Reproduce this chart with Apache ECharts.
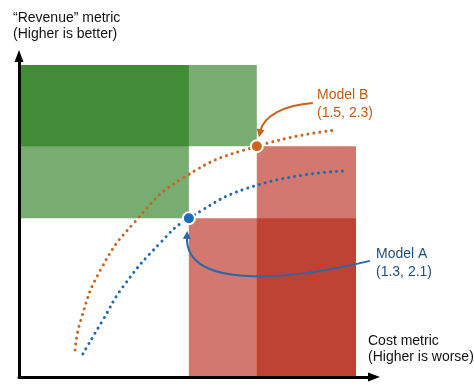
<!DOCTYPE html>
<html>
<head>
<meta charset="utf-8">
<script src="https://cdn.jsdelivr.net/npm/echarts@6/dist/echarts.min.js"></script>
<style>
html, body { margin: 0; padding: 0; background: #fff; }
#main { width: 474px; height: 389px; }
</style>
</head>
<body>
<div id="main"></div>
<script>
// models (cost, revenue)
var modelNames = ['Model A', 'Model B'];
var modelCost = [1.3, 1.5];
var modelRevenue = [2.1, 2.3];

// trade-off curves
var curveACost = [0.988, 1.047, 1.106, 1.215, 1.3, 1.501, 1.754];
var curveARevenue = [1.724, 1.818, 1.91, 2.031, 2.1, 2.192, 2.231];
var curveBCost = [0.965, 0.982, 1.04, 1.141, 1.283, 1.5, 1.736];
var curveBRevenue = [1.735, 1.818, 1.957, 2.09, 2.212, 2.3, 2.345];

// axis range
var costMin = 0.8, costMax = 1.845;
var revMin = 1.66, revMax = 2.55;
var regionTop = 2.525, regionRight = 1.792;

var blue = '#1f6aa8';
var orange = '#cc6420';
var font = '"Liberation Sans", Arial, sans-serif';

function pairs(xs, ys) {
    return xs.map(function (x, i) { return [x, ys[i]]; });
}

// better (green) / worse (red) regions per model
var rects = [];
modelCost.forEach(function (c, i) {
    rects.push([costMin, c, modelRevenue[i], regionTop, 0]);
    rects.push([c, regionRight, revMin, modelRevenue[i], 1]);
});

// annotation arrows: start, cp1, cp2, end (data coords)
var arrows = [
    [[1.833, 1.982], [1.598, 1.929], [1.289, 1.901], [1.295, 2.065]],
    [[1.665, 2.420], [1.583, 2.414], [1.521, 2.386], [1.506, 2.325]]
];
var arrowColors = ['#2a69a6', '#c8621c'];

var myChart = echarts.init(document.getElementById('main'));
var axisLine = {
    show: true,
    onZero: false,
    symbol: ['none', 'triangle'],
    symbolSize: [9, 12],
    lineStyle: { color: '#000', width: 3 }
};
var option = {
    animation: false,
    grid: { left: 19, top: 56, right: 100, bottom: 12 },
    xAxis: {
        type: 'value', min: costMin, max: costMax, z: 10,
        axisLine: axisLine, axisTick: { show: false },
        axisLabel: { show: false }, splitLine: { show: false }
    },
    yAxis: {
        type: 'value', min: revMin, max: revMax, z: 10,
        axisLine: axisLine, axisTick: { show: false },
        axisLabel: { show: false }, splitLine: { show: false }
    },
    graphic: [
        {
            type: 'text', left: 13, top: 10,
            style: { text: '\u201cRevenue\u201d metric\n(Higher is better)', font: '14px ' + font, fill: '#111', lineHeight: 16 }
        },
        {
            type: 'text', left: 368, top: 333,
            style: { text: 'Cost metric\n(Higher is worse)', font: '14px ' + font, fill: '#111', lineHeight: 16 }
        },
        {
            type: 'text', left: 376, top: 245,
            style: { text: modelNames[0] + '\n(' + modelCost[0].toFixed(1) + ', ' + modelRevenue[0].toFixed(1) + ')', font: '14px ' + font, fill: '#1f4e79', lineHeight: 18 }
        },
        {
            type: 'text', left: 317, top: 86,
            style: { text: modelNames[1] + '\n(' + modelCost[1].toFixed(1) + ', ' + modelRevenue[1].toFixed(1) + ')', font: '14px ' + font, fill: '#c55a11', lineHeight: 18 }
        }
    ],
    series: [
        {
            type: 'custom',
            z: 1,
            silent: true,
            encode: { x: [0, 1], y: [2, 3] },
            data: rects,
            renderItem: function (params, api) {
                var p0 = api.coord([api.value(0), api.value(3)]);
                var p1 = api.coord([api.value(1), api.value(2)]);
                var green = api.value(4) === 0;
                return {
                    type: 'rect',
                    shape: { x: p0[0], y: p0[1], width: p1[0] - p0[0], height: p1[1] - p0[1] },
                    style: { fill: green ? 'rgba(30,117,17,0.6)' : 'rgba(180,30,15,0.6)' }
                };
            }
        },
        {
            type: 'line',
            z: 3,
            smooth: 0.5,
            symbol: 'none',
            data: pairs(curveBCost, curveBRevenue),
            lineStyle: { color: orange, width: 3, type: [0.01, 6], cap: 'round' }
        },
        {
            type: 'line',
            z: 3,
            smooth: 0.5,
            symbol: 'none',
            data: pairs(curveACost, curveARevenue),
            lineStyle: { color: blue, width: 3, type: [0.01, 6], cap: 'round' }
        },
        {
            type: 'custom',
            z: 4,
            silent: true,
            data: [[1.3, 2.1], [1.5, 2.3]],
            renderItem: function (params, api) {
                var a = arrows[params.dataIndex].map(function (p) { return api.coord(p); });
                var col = arrowColors[params.dataIndex];
                var dx = a[3][0] - a[2][0], dy = a[3][1] - a[2][1];
                var len = Math.sqrt(dx * dx + dy * dy);
                dx /= len; dy /= len;
                var L = 8, W = 4;
                var bx = a[3][0] - dx * L, by = a[3][1] - dy * L;
                return {
                    type: 'group',
                    children: [
                        {
                            type: 'bezierCurve',
                            shape: {
                                x1: a[0][0], y1: a[0][1],
                                cpx1: a[1][0], cpy1: a[1][1],
                                cpx2: a[2][0], cpy2: a[2][1],
                                x2: bx + dx * 2, y2: by + dy * 2
                            },
                            style: { stroke: col, lineWidth: 2, fill: null }
                        },
                        {
                            type: 'polygon',
                            shape: { points: [a[3], [bx - dy * W, by + dx * W], [bx + dy * W, by - dx * W]] },
                            style: { fill: col }
                        }
                    ]
                };
            }
        },
        {
            type: 'scatter',
            z: 5,
            symbolSize: 12,
            data: pairs(modelCost, modelRevenue).map(function (p, i) {
                return { value: p, itemStyle: { color: i === 0 ? '#1a6cbf' : '#d0641a' } };
            }),
            itemStyle: { borderColor: '#fff', borderWidth: 2, opacity: 1 }
        }
    ]
};
myChart.setOption(option, true);
</script>
</body>
</html>
